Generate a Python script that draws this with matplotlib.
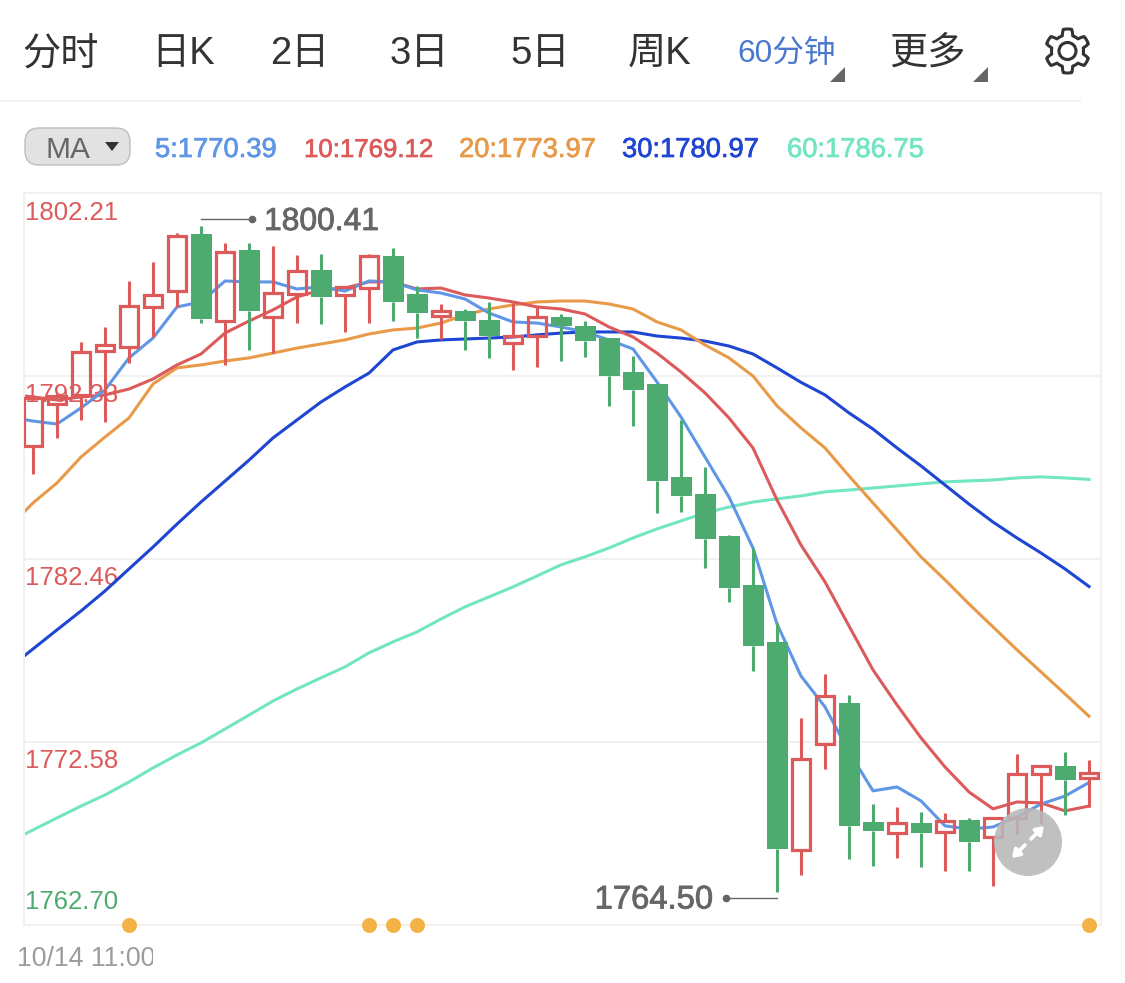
import numpy as np
import matplotlib
matplotlib.use('Agg')
import matplotlib.pyplot as plt
import matplotlib.patheffects as pe
from matplotlib.patches import Circle, FancyBboxPatch, Polygon, Rectangle

plt.rcParams['font.family'] = ['Liberation Sans', 'Noto Sans CJK SC']

# 60 minute candles
opens = [1788.56, 1790.82, 1791.31, 1793.68, 1793.90, 1796.06, 1796.92, 1800.00, 1795.30, 1799.13, 1795.52, 1796.76,
         1798.05, 1796.71, 1797.08, 1798.81, 1796.76, 1795.57, 1795.84, 1795.36, 1794.11, 1794.49, 1795.52, 1795.03,
         1794.38, 1792.55, 1791.90, 1786.88, 1785.97, 1783.70, 1781.05, 1777.98, 1766.75, 1772.47, 1774.69, 1768.26,
         1767.67, 1768.21, 1767.72, 1768.37, 1767.45, 1768.48, 1770.85, 1771.28, 1770.64]
closes = [1791.15, 1791.25, 1793.63, 1794.01, 1796.11, 1796.71, 1799.89, 1795.41, 1799.03, 1795.84, 1796.81, 1798.00,
          1796.60, 1797.14, 1798.81, 1796.33, 1795.73, 1795.84, 1795.30, 1794.49, 1794.49, 1795.52, 1795.03, 1794.22,
          1792.33, 1791.58, 1786.67, 1785.86, 1783.54, 1780.89, 1777.76, 1766.81, 1771.66, 1775.06, 1768.05, 1767.78,
          1768.21, 1767.67, 1768.32, 1767.18, 1768.48, 1770.85, 1771.28, 1770.53, 1770.91]
highs = [1791.31, 1791.42, 1794.17, 1794.98, 1797.46, 1798.49, 1800.05, 1800.41, 1799.51, 1799.51, 1799.35, 1798.86,
         1798.92, 1797.14, 1798.92, 1799.24, 1797.19, 1796.22, 1795.95, 1796.33, 1796.27, 1796.06, 1795.68, 1795.30,
         1794.38, 1793.41, 1791.90, 1789.96, 1787.42, 1783.75, 1783.05, 1779.00, 1773.88, 1776.25, 1775.12, 1769.23,
         1769.07, 1768.80, 1768.75, 1768.48, 1768.53, 1771.93, 1771.28, 1772.04, 1771.61]
lows = [1787.04, 1788.99, 1789.96, 1789.85, 1793.04, 1794.44, 1796.06, 1795.19, 1792.93, 1793.74, 1793.57, 1795.19,
        1795.14, 1794.71, 1795.19, 1795.30, 1794.38, 1794.33, 1793.74, 1793.30, 1792.66, 1792.82, 1793.14, 1793.36,
        1790.71, 1789.63, 1784.94, 1784.99, 1781.97, 1780.14, 1776.41, 1764.50, 1765.40, 1771.12, 1766.27, 1765.89,
        1766.32, 1765.83, 1765.62, 1765.62, 1764.81, 1767.62, 1768.21, 1768.64, 1769.07]

# moving averages, first value belongs to the bar just left of the window
ma5 = [1790.12, 1789.90, 1789.74, 1790.61, 1791.58, 1793.31, 1794.38, 1796.06, 1796.33, 1797.46, 1797.41, 1797.41,
       1797.03, 1797.14, 1796.92, 1797.46, 1797.41, 1796.98, 1796.81, 1796.49, 1795.73, 1795.25, 1795.19, 1794.98,
       1794.71, 1794.28, 1793.79, 1792.01, 1790.12, 1787.96, 1785.80, 1783.05, 1778.95, 1776.14, 1774.47, 1772.04,
       1769.94, 1770.15, 1769.40, 1768.05, 1767.88, 1767.99, 1768.53, 1769.23, 1769.66, 1770.39]
ma10 = [1791.36, 1791.20, 1791.04, 1791.20, 1791.31, 1791.63, 1792.17, 1792.93, 1793.52, 1794.65, 1795.30, 1795.90,
        1796.60, 1796.98, 1797.08, 1797.41, 1797.41, 1797.03, 1797.08, 1796.71, 1796.54, 1796.33, 1796.06, 1795.95,
        1795.68, 1794.98, 1794.44, 1793.57, 1792.55, 1791.42, 1790.07, 1788.45, 1785.64, 1783.21, 1781.22, 1778.84,
        1776.47, 1774.58, 1772.80, 1771.23, 1769.88, 1768.97, 1769.34, 1769.29, 1768.86, 1769.12]
ma20 = [1784.18, 1785.48, 1786.56, 1787.96, 1789.04, 1790.07, 1791.90, 1792.77, 1792.93, 1793.14, 1793.31, 1793.57,
        1793.84, 1794.06, 1794.28, 1794.60, 1794.82, 1794.92, 1795.19, 1795.63, 1795.95, 1796.17, 1796.33, 1796.38,
        1796.38, 1796.22, 1795.95, 1795.25, 1794.82, 1794.01, 1793.31, 1792.33, 1790.72, 1789.53, 1788.45, 1786.94,
        1785.48, 1784.03, 1782.57, 1781.33, 1780.03, 1778.79, 1777.55, 1776.36, 1775.17, 1773.97]
ma30 = [1776.57, 1777.60, 1778.63, 1779.65, 1780.73, 1781.92, 1783.10, 1784.34, 1785.53, 1786.66, 1787.79, 1788.99,
        1789.96, 1790.93, 1791.74, 1792.49, 1793.74, 1794.17, 1794.28, 1794.33, 1794.38, 1794.44, 1794.55, 1794.65,
        1794.71, 1794.71, 1794.71, 1794.49, 1794.38, 1794.22, 1793.95, 1793.52, 1792.77, 1791.99, 1791.31, 1790.34,
        1789.47, 1788.45, 1787.48, 1786.45, 1785.42, 1784.45, 1783.59, 1782.78, 1781.92, 1780.97]
ma60 = [1767.18, 1767.83, 1768.48, 1769.12, 1769.72, 1770.42, 1771.18, 1771.88, 1772.53, 1773.28, 1774.03, 1774.79,
        1775.44, 1776.04, 1776.63, 1777.39, 1777.98, 1778.52, 1779.22, 1779.87, 1780.41, 1780.95, 1781.54, 1782.14,
        1782.57, 1783.05, 1783.59, 1784.08, 1784.51, 1784.94, 1785.26, 1785.53, 1785.70, 1785.86, 1786.08, 1786.18,
        1786.29, 1786.40, 1786.51, 1786.62, 1786.67, 1786.72, 1786.83, 1786.89, 1786.83, 1786.75]

price_levels = [1802.21, 1792.33, 1782.46, 1772.58, 1762.70]
event_bars = [4, 14, 15, 16, 44]

tabs = ['分时', '日K', '2日', '3日', '5日', '周K', '60分钟', '更多']
tab_left = [22, 151, 270, 390, 510, 628, 737, 889]
ma_labels = ['5:1770.39', '10:1769.12', '20:1773.97', '30:1780.97', '60:1786.75']
ma_left = [155, 304, 459, 622, 787]
ma_sizes = [19.7, 18.6, 19.7, 19.7, 19.7]
ma_colors = ['#5f96e6', '#dc5a5a', '#e89a48', '#1f45d3', '#72e5c3']

RED = '#dc5a5a'
GREEN = '#4dab6f'
LINE = '#f1f1f1'
GREY = '#666666'

opens, closes, highs, lows = map(np.array, (opens, closes, highs, lows))
bars = np.arange(len(opens))
up = closes > opens
top = np.maximum(opens, closes)
bottom = np.minimum(opens, closes)

W, H = 1125, 983
fig = plt.figure(figsize=(W / 100, H / 100), dpi=100, facecolor='white')

# price panel, one bar every 24 px
ax = fig.add_axes([24 / W, 1 - 925 / H, (1101 - 24) / W, (925 - 193) / H])
ax.set_xlim(-0.375, 44.5)
ax.set_ylim(price_levels[-1], price_levels[0])
ax.set_yticks(price_levels)
ax.set_xticks([])
ax.grid(axis='y', color=LINE, linewidth=1.5, zorder=0)
ax.set_axisbelow(True)
ax.tick_params(left=False, labelleft=False)
for side in ax.spines.values():
    side.set_color(LINE)
    side.set_linewidth(1.5)

# px below the grid line, the lowest label sits above its line
label_offset = [20, 19, 19, 19, -23]
for level, off in zip(price_levels, label_offset):
    ax.annotate(f'{level:.2f}', (0, level), xycoords=('axes fraction', 'data'),
                xytext=(1, -off * 0.72), textcoords='offset points', va='center',
                fontsize=18.5, color=GREEN if level == price_levels[-1] else RED, zorder=1)

ma_x = np.arange(-1, len(bars))
for values, color in zip((ma60, ma30, ma20, ma10, ma5), ma_colors[::-1]):
    ax.plot(ma_x, values, color=color, linewidth=2.2, solid_joinstyle='round', zorder=2)

# green candles are solid, red ones hollow so the averages show through
ax.vlines(bars[up], top[up], highs[up], color=RED, linewidth=2.2, zorder=3)
ax.vlines(bars[up], lows[up], bottom[up], color=RED, linewidth=2.2, zorder=3)
ax.vlines(bars[~up], top[~up], highs[~up], color=GREEN, linewidth=2.2, zorder=3)
ax.vlines(bars[~up], lows[~up], bottom[~up], color=GREEN, linewidth=2.2, zorder=3)
ax.bar(bars[~up], (top - bottom)[~up], bottom=bottom[~up], width=0.875, color=GREEN, zorder=3)
ax.bar(bars[up], (top - bottom)[up], bottom=bottom[up], width=0.75, facecolor='none',
       edgecolor=RED, linewidth=2.3, zorder=3)

ax.scatter(event_bars, [price_levels[-1]] * len(event_bars), s=117, color='#f3b245',
           linewidth=0, clip_on=False, zorder=5)

# everything else is laid out in screen pixels on a full size overlay
ui = fig.add_axes([0, 0, 1, 1], facecolor='none')
ui.set_xlim(0, W)
ui.set_ylim(H, 0)
ui.axis('off')

for text, x in zip(tabs, tab_left):
    active = text == '60分钟'
    ui.text(x, 54, text, va='center', fontsize=22.8 if active else 27.5,
            color='#4a78cc' if active else '#333333')
for x in (845, 988):
    ui.add_patch(Polygon([(x, 67), (x, 82), (x - 15, 82)], color=GREY, linewidth=0))
ui.plot([0, 1080], [101, 101], color=LINE, linewidth=1.5)

# settings gear, six rounded teeth
angles = np.linspace(0, 2 * np.pi, 360, endpoint=False)
radius = 19 + 3 * np.clip(2.5 * np.cos(6 * angles), -1, 1)
ui.fill(1067.5 + radius * np.sin(angles), 51 + radius * np.cos(angles), facecolor='none',
        edgecolor='#333333', linewidth=2.2, joinstyle='round')
ui.add_patch(Circle((1067.5, 51), 8.5, facecolor='none', edgecolor='#333333', linewidth=2.2))

# MA selector
ui.add_patch(FancyBboxPatch((25, 128), 105, 37, boxstyle='round,pad=0,rounding_size=14',
                            facecolor='#e2e2e2', edgecolor='#bdbdbd', linewidth=1))
ui.text(46, 150, 'MA', va='center', fontsize=21.5, color=GREY)
ui.add_patch(Polygon([(105, 142), (119, 142), (112, 151)], color='#333333', linewidth=0))
for text, x, size, color in zip(ma_labels, ma_left, ma_sizes, ma_colors):
    ui.text(x, 150, text, va='center', fontsize=size, color=color,
            path_effects=[pe.withStroke(linewidth=0.5, foreground=color)])

# high and low markers
ui.plot([201, 252], [219, 219], color=GREY, linewidth=1)
ui.plot([252], [219], 'o', color=GREY, markersize=5.5, markeredgewidth=0)
ui.plot([726, 777], [898, 898], color=GREY, linewidth=1)
ui.plot([726], [898], 'o', color=GREY, markersize=5.5, markeredgewidth=0)
marker_stroke = [pe.withStroke(linewidth=0.6, foreground=GREY)]
ui.text(264, 222, f'{highs.max():.2f}', va='center', fontsize=22.9, color=GREY, path_effects=marker_stroke)
ui.text(713, 900, f'{lows.min():.2f}', va='center', ha='right', fontsize=23.6, color=GREY,
        path_effects=marker_stroke)

# time label is cut off by its box on the right
time_label = ui.text(17, 959, '10/14 11:00', va='center', fontsize=19.3, color='#9c9c9c')
time_label.set_clip_path(Rectangle((0, 0), 153, H, transform=ui.transData))
time_label.set_clip_on(True)

# expand button
ui.add_patch(Circle((1028, 842), 34, facecolor='#b8b8b8', alpha=0.88, edgecolor='none'))
for start, end in (((1025, 845), (1012, 858)), ((1031, 839), (1044, 826))):
    ui.annotate('', xy=end, xytext=start, arrowprops=dict(arrowstyle='-|>,head_length=0.45,head_width=0.3',
                color='white', linewidth=2.6, shrinkA=0, shrinkB=0))

fig.savefig('out.png', dpi=100)
